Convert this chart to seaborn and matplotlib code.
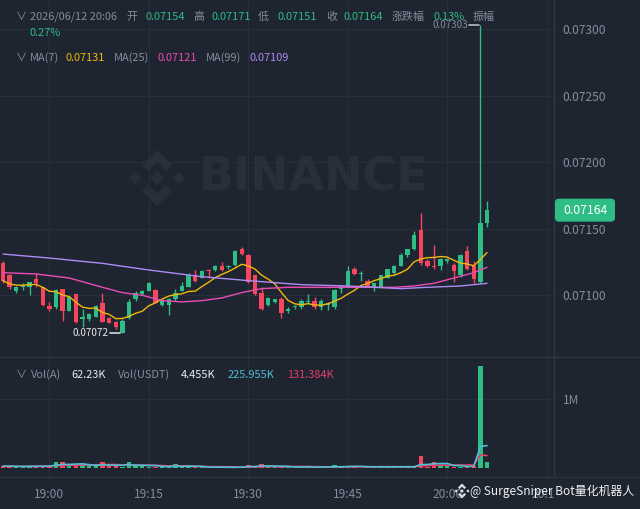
import numpy as np
import pandas as pd
import matplotlib
matplotlib.use('Agg')
import matplotlib.pyplot as plt
import seaborn as sns
from matplotlib.patches import Polygon, FancyBboxPatch, Rectangle
from matplotlib.lines import Line2D
from matplotlib.transforms import IdentityTransform

# 1 minute candles, 2026/06/12 18:53 - 20:06
times = pd.date_range('2026-06-12 18:53', periods=74, freq='min')
opens = [0.07124, 0.07115, 0.07103, 0.07106, 0.07106, 0.07112, 0.07106, 0.07092, 0.07091, 0.07105,
         0.07088, 0.07101, 0.07082, 0.07082, 0.07084, 0.07094, 0.07083, 0.07080, 0.07072, 0.07083,
         0.07097, 0.07101, 0.07103, 0.07104, 0.07093, 0.07093, 0.07097, 0.07103, 0.07106, 0.07115,
         0.07113, 0.07119, 0.07119, 0.07122, 0.07121, 0.07123, 0.07135, 0.07130, 0.07115, 0.07102,
         0.07093, 0.07095, 0.07097, 0.07088, 0.07091, 0.07091, 0.07095, 0.07096, 0.07091, 0.07093,
         0.07091, 0.07105, 0.07106, 0.07120, 0.07116, 0.07111, 0.07106, 0.07106, 0.07113, 0.07117,
         0.07122, 0.07130, 0.07135, 0.07149, 0.07126, 0.07122, 0.07122, 0.07126, 0.07123, 0.07115,
         0.07133, 0.07122, 0.07110, 0.07154]
highs = [0.07126, 0.07116, 0.07107, 0.07109, 0.07110, 0.07117, 0.07106, 0.07095, 0.07105, 0.07105,
         0.07099, 0.07101, 0.07090, 0.07087, 0.07093, 0.07102, 0.07084, 0.07081, 0.07082, 0.07097,
         0.07103, 0.07104, 0.07110, 0.07105, 0.07097, 0.07098, 0.07105, 0.07110, 0.07117, 0.07119,
         0.07119, 0.07120, 0.07123, 0.07125, 0.07123, 0.07134, 0.07136, 0.07131, 0.07115, 0.07106,
         0.07099, 0.07097, 0.07099, 0.07091, 0.07093, 0.07097, 0.07101, 0.07099, 0.07097, 0.07095,
         0.07105, 0.07108, 0.07122, 0.07121, 0.07118, 0.07112, 0.07109, 0.07115, 0.07120, 0.07123,
         0.07132, 0.07135, 0.07148, 0.07162, 0.07127, 0.07138, 0.07128, 0.07128, 0.07124, 0.07131,
         0.07137, 0.07126, 0.07303, 0.07171]
lows = [0.07109, 0.07105, 0.07102, 0.07104, 0.07100, 0.07106, 0.07092, 0.07088, 0.07090, 0.07081,
        0.07088, 0.07079, 0.07076, 0.07081, 0.07084, 0.07080, 0.07079, 0.07075, 0.07072, 0.07082,
        0.07096, 0.07100, 0.07103, 0.07094, 0.07092, 0.07085, 0.07096, 0.07103, 0.07106, 0.07110,
        0.07113, 0.07113, 0.07118, 0.07118, 0.07120, 0.07122, 0.07130, 0.07109, 0.07100, 0.07089,
        0.07092, 0.07094, 0.07083, 0.07087, 0.07090, 0.07090, 0.07094, 0.07090, 0.07089, 0.07089,
        0.07090, 0.07102, 0.07106, 0.07115, 0.07111, 0.07106, 0.07103, 0.07106, 0.07113, 0.07116,
        0.07122, 0.07129, 0.07134, 0.07123, 0.07121, 0.07120, 0.07119, 0.07124, 0.07110, 0.07114,
        0.07119, 0.07109, 0.07109, 0.07151]
closes = [0.07111, 0.07106, 0.07106, 0.07107, 0.07110, 0.07109, 0.07093, 0.07090, 0.07104, 0.07088,
          0.07099, 0.07080, 0.07084, 0.07086, 0.07092, 0.07080, 0.07079, 0.07076, 0.07081, 0.07095,
          0.07102, 0.07103, 0.07109, 0.07094, 0.07096, 0.07097, 0.07102, 0.07107, 0.07115, 0.07111,
          0.07118, 0.07118, 0.07122, 0.07119, 0.07122, 0.07133, 0.07131, 0.07110, 0.07101, 0.07090,
          0.07098, 0.07097, 0.07087, 0.07090, 0.07092, 0.07096, 0.07096, 0.07091, 0.07096, 0.07094,
          0.07104, 0.07107, 0.07118, 0.07116, 0.07117, 0.07106, 0.07109, 0.07115, 0.07120, 0.07122,
          0.07130, 0.07135, 0.07145, 0.07124, 0.07122, 0.07121, 0.07127, 0.07127, 0.07118, 0.07130,
          0.07120, 0.07112, 0.07154, 0.07164]
volumes = [30e3, 35e3, 20e3, 25e3, 30e3, 35e3, 40e3, 30e3, 90e3, 85e3,
           40e3, 65e3, 45e3, 30e3, 35e3, 85e3, 40e3, 30e3, 25e3, 85e3,
           40e3, 35e3, 25e3, 20e3, 15e3, 30e3, 60e3, 20e3, 25e3, 15e3,
           20e3, 10e3, 15e3, 20e3, 10e3, 15e3, 25e3, 55e3, 20e3, 60e3,
           15e3, 20e3, 30e3, 15e3, 10e3, 20e3, 25e3, 20e3, 15e3, 10e3,
           45e3, 20e3, 40e3, 25e3, 10e3, 20e3, 15e3, 35e3, 20e3, 15e3,
           25e3, 20e3, 30e3, 175e3, 25e3, 85e3, 30e3, 35e3, 25e3, 20e3,
           25e3, 35e3, 1480e3, 85e3]

# MA(25) / MA(99) (they need history before 18:53)
ma25_times = ['18:53', '18:58', '19:03', '19:08', '19:11', '19:14', '19:17', '19:20', '19:23', '19:26',
              '19:29', '19:32', '19:36', '19:41', '19:46', '19:52', '19:55', '19:58', '20:01', '20:04', '20:06']
ma25_vals = [0.07117, 0.07116, 0.07113, 0.07106, 0.07102, 0.07100, 0.07096, 0.07095, 0.07096, 0.07098,
             0.07102, 0.07105, 0.07106, 0.07106, 0.07106, 0.07106, 0.07107, 0.07109, 0.07113, 0.07117, 0.07121]
ma99_times = ['18:53', '19:00', '19:08', '19:15', '19:23', '19:30', '19:38', '19:45', '19:53', '19:57', '20:02', '20:06']
ma99_vals = [0.07131, 0.07128, 0.07124, 0.07119, 0.07114, 0.07111, 0.07108, 0.07107, 0.07105, 0.07106, 0.07107, 0.07109]

time_ticks = ['19:00', '19:15', '19:30', '19:45', '20:00', '20:15']
price_ticks = [0.0710, 0.0715, 0.0720, 0.0725, 0.0730]

BG = '#1e2430'
GRID = '#282e3a'
SEP = '#2f3541'
GREY = '#848e9c'
GREEN = '#2ebd85'
RED = '#f6465d'
YELLOW = '#f0b90b'
PINK = '#e94db5'
PURPLE = '#ad8cf3'
CYAN = '#4ebfd5'
VRED = '#e5406a'
HDR = 7.9

sns.set_theme(style='dark')
plt.rcParams['font.family'] = ['Noto Sans CJK SC', 'DejaVu Sans']

W, H = 640, 509
fig = plt.figure(figsize=(6.4, 5.09), dpi=100, facecolor=BG)
ax = fig.add_axes([0, 152 / H, 553 / W, 357 / H])
axv = fig.add_axes([0, 32 / H, 553 / W, 120 / H], sharex=ax)

df = pd.DataFrame({'t': times, 'o': opens, 'h': highs, 'l': lows, 'c': closes, 'v': volumes})
df['i'] = np.arange(len(df))
up = df['c'] >= df['o']
cols = np.where(up, GREEN, RED)
pos = {hm: k for k, hm in enumerate(pd.date_range('2026-06-12 18:53', periods=90, freq='min').strftime('%H:%M'))}

for a in (ax, axv):
    a.set_facecolor(BG)
    for s in a.spines.values():
        s.set_visible(False)
    a.grid(True, color=GRID, lw=0.8)
    a.set_axisbelow(True)

# candles
ax.vlines(df['i'], df['l'], df['h'], colors=cols, lw=1, zorder=2)
body_lo = np.minimum(df['o'], df['c'])
body_h = np.maximum((df['c'] - df['o']).abs(), 0.0000085)
ax.bar(df['i'], body_h, bottom=body_lo, width=0.66, color=cols, linewidth=0, zorder=3)

# moving averages
df['ma7'] = df['c'].rolling(7, min_periods=1).mean()
sns.lineplot(x=df['i'], y=df['ma7'], ax=ax, color=YELLOW, lw=1, zorder=4)
sns.lineplot(x=[pos[t] for t in ma25_times], y=ma25_vals, ax=ax, color=PINK, lw=1, zorder=4)
sns.lineplot(x=[pos[t] for t in ma99_times], y=ma99_vals, ax=ax, color=PURPLE, lw=1, zorder=4)

ax.set_xlim(-0.45, 82.95)
ax.set_ylim(0.070536, 0.07322)
ax.set_yticks(price_ticks)
ax.set_yticklabels([f'{p:.5f}' for p in price_ticks])
ax.yaxis.tick_right()
ax.tick_params(axis='y', colors=GREY, length=0, pad=7, labelsize=8.6)
ax.tick_params(axis='x', length=0, labelbottom=False)
ax.set_xlabel('')
ax.set_ylabel('')

# high / low markers
hi = df['h'].idxmax()
lo = df['l'].idxmin()
ax.plot([hi - 1.65, hi - 0.2], [df['h'][hi]] * 2, color='#b7bdc6', lw=1.2, zorder=5)
ax.text(hi - 1.9, df['h'][hi], f"{df['h'][hi]:.5f}", color=GREY, fontsize=7, ha='right', va='center', zorder=5)
ax.plot([lo - 1.9, lo - 0.3], [df['l'][lo]] * 2, color='#d5d9de', lw=1.2, zorder=5)
ax.text(lo - 2.1, df['l'][lo], f"{df['l'][lo]:.5f}", color='#e6e8ea', fontsize=7.2, ha='right', va='center', zorder=5)

# volume pane
axv.bar(df['i'], df['v'], width=0.66, color=cols, linewidth=0, zorder=3)
df['v5'] = df['v'].rolling(5, min_periods=1).mean()
df['v10'] = df['v'].rolling(10, min_periods=1).mean()
sns.lineplot(x=df['i'], y=df['v10'], ax=axv, color=VRED, lw=1.2, zorder=4)
sns.lineplot(x=df['i'], y=df['v5'], ax=axv, color=CYAN, lw=1.2, zorder=4)
axv.set_ylim(-0.126e6, 1.613e6)
axv.set_yticks([1e6])
axv.set_yticklabels(['1M'])
axv.yaxis.tick_right()
axv.tick_params(axis='y', colors=GREY, length=0, pad=7, labelsize=8.6)
axv.set_xticks([pos[t] for t in time_ticks])
axv.set_xticklabels(time_ticks)
axv.tick_params(axis='x', colors=GREY, length=0, pad=8, labelsize=8.6)
axv.set_xlabel('')
axv.set_ylabel('')
ax.set_xticks([pos[t] for t in time_ticks])

# separators
fig.add_artist(Rectangle((554 / W, 0), 86 / W, 31 / H, transform=fig.transFigure, color=BG, zorder=3))
for y in (357, 477):
    fig.add_artist(Line2D([0, 1], [1 - y / H] * 2, color=SEP, lw=1, transform=fig.transFigure))
fig.add_artist(Line2D([553.5 / W] * 2, [0, 1], color=SEP, lw=1, transform=fig.transFigure))


def put(x, y, s, color=GREY, size=HDR, **kw):
    fig.text(x / W, 1 - y / H, s, color=color, fontsize=size, ha='left', va='center', **kw)


# header
put(16, 17, '∨', size=8)
put(30, 17, '2026/06/12 20:06')
put(126, 17, '开')
put(145, 17, '0.07154', GREEN)
put(193, 17, '高')
put(211, 17, '0.07171', GREEN)
put(258, 17, '低')
put(278, 17, '0.07151', GREEN)
put(326, 17, '收')
put(344, 17, '0.07164', GREEN)
put(392, 17, '涨跌幅')
put(433, 17, '0.13%', GREEN)
put(473, 17, '振幅')
put(30, 33, '0.27%', GREEN)

put(16, 58, '∨', size=8)
put(30, 58, 'MA(7)')
put(66, 58, '0.07131', YELLOW)
put(114, 58, 'MA(25)')
put(157, 58, '0.07121', PINK)
put(206, 58, 'MA(99)')
put(249, 58, '0.07109', PURPLE)

put(16, 375, '∨', size=8)
put(31, 375, 'Vol(A)')
put(71, 375, '62.23K', '#eaecef')
put(118, 375, 'Vol(USDT)')
put(181, 375, '4.455K', '#eaecef')
put(228, 375, '225.955K', CYAN)
put(287, 375, '131.384K', VRED)

# last price tag
fig.canvas.draw()
ypix = ax.transData.transform((0, closes[-1]))[1]
fig.add_artist(FancyBboxPatch((555, ypix - 11.5), 60, 23, boxstyle='round,pad=0,rounding_size=4',
                              transform=IdentityTransform(), fc=GREEN, ec='none', zorder=6))
fig.text(585, ypix, f'{closes[-1]:.5f}', transform=IdentityTransform(), color='white', fontsize=8.8,
         ha='center', va='center', zorder=7)


# watermarks
def logo(cx, cy, s, color, z=1):
    def P(pts):
        xy = [((cx + dx * s) / W, 1 - (cy + dy * s) / H) for dx, dy in pts]
        fig.add_artist(Polygon(xy, closed=True, transform=fig.transFigure, fc=color, ec='none', zorder=z))
    P([(0, -7), (7, 0), (0, 7), (-7, 0)])
    P([(-22, -6), (-16, 0), (-22, 6), (-28, 0)])
    P([(22, -6), (28, 0), (22, 6), (16, 0)])
    P([(0, -28), (15, -13), (9, -7), (0, -16), (-9, -7), (-15, -13)])
    P([(0, 28), (15, 13), (9, 7), (0, 16), (-9, 7), (-15, 13)])


logo(157, 178, 1.0, '#282e3a')
fig.text(314 / W, 1 - 178 / H, 'BINANCE', color='#282e3a', fontsize=33, fontweight='bold',
         family='DejaVu Sans', ha='center', va='center', zorder=1)
logo(462, 491, 0.27, '#d9dce0', z=8)
fig.text(470 / W, 1 - 491 / H, '@ SurgeSniper Bot量化机器人', color='#eef0f2', fontsize=8.6,
         ha='left', va='center', zorder=8)

fig.savefig('out.png', dpi=100, facecolor=BG)
